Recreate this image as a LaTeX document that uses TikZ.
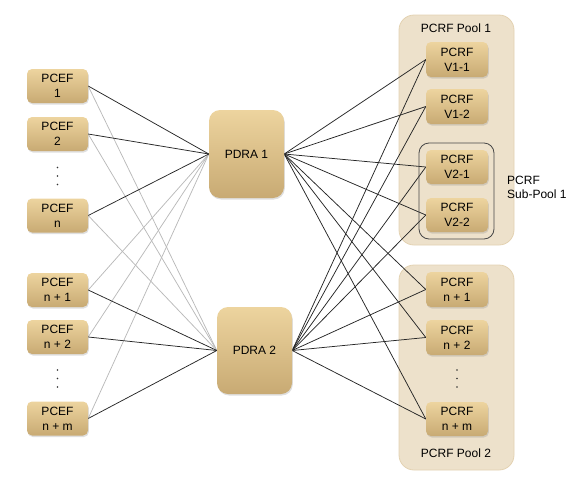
\documentclass[tikz,border=0pt]{standalone}
\usepackage{fontspec}
\setmainfont{Liberation Sans}
\usetikzlibrary{shadows}
\pgfdeclarelayer{poollayer}
\pgfdeclarelayer{linelayer}
\pgfsetlayers{poollayer,linelayer,main}
\definecolor{boxtop}{HTML}{EDD49F}
\definecolor{boxbot}{HTML}{C8AA73}
\definecolor{poolfill}{HTML}{EDE1CB}
\definecolor{poolline}{HTML}{E3D2B2}
\definecolor{darkline}{HTML}{262626}
\definecolor{lightline}{HTML}{BABABA}
\definecolor{dotcol}{HTML}{333333}
\tikzset{
  boxbase/.style={draw=none, top color=boxtop, bottom color=boxbot, inner sep=0pt, align=center,
     font=\fontsize{12}{15}\selectfont,
     drop shadow={shadow xshift=0.8pt, shadow yshift=-1.5pt, opacity=0.25}},
  smallbox/.style={boxbase, rounded corners=5pt, minimum width=61pt, minimum height=34pt},
  bigbox/.style={boxbase, rounded corners=11pt, minimum width=75pt, minimum height=87pt},
  pool/.style={draw=poolline, fill=poolfill, line width=0.8pt, rounded corners=15pt, inner sep=0pt},
  subpool/.style={draw=darkline!85, line width=0.8pt, rounded corners=10pt, inner sep=0pt},
  dotsnode/.style={inner sep=0pt, minimum width=2pt, minimum height=18pt,
     path picture={\fill[dotcol] (path picture bounding box.center) circle (0.85pt);
                   \fill[dotcol] ([yshift=8.5pt]path picture bounding box.center) circle (0.85pt);
                   \fill[dotcol] ([yshift=-8.5pt]path picture bounding box.center) circle (0.85pt);}},
  label/.style={inner sep=0pt, font=\fontsize{12}{14}\selectfont},
  dk/.style={draw=darkline, line width=0.75pt},
  lt/.style={draw=lightline, line width=0.75pt}
}
\begin{document}
\begin{tikzpicture}[x=1pt,y=-1pt]
\useasboundingbox (0,0) rectangle (576,477);
% pools
\begin{pgfonlayer}{poollayer}
\node[pool, minimum width=115pt, minimum height=230pt] (pool1) at (456.5,130) {};
\node[pool, minimum width=115pt, minimum height=205pt] (pool2) at (456.5,367.5) {};
\end{pgfonlayer}
\node[label] (pool1lab) at (456,28) {PCRF Pool 1};
\node[label] (pool2lab) at (456,453) {PCRF Pool 2};
\node[subpool, minimum width=75pt, minimum height=96pt] (sub) at (456.5,191) {};
\node[label, align=left, anchor=west] (sublab) at (507,187) {PCRF\\Sub-Pool 1};
% PCEF
\node[smallbox] (p1) at (57.5,86) {PCEF\\1};
\node[smallbox] (p2) at (57.5,134) {PCEF\\2};
\node[dotsnode, minimum width=3pt, minimum height=20pt] (d1) at (57.5,176) {};
\node[smallbox] (pn) at (57.5,215.5) {PCEF\\n};
\node[smallbox] (pn1) at (57.5,290) {PCEF\\n + 1};
\node[smallbox] (pn2) at (57.5,337) {PCEF\\n + 2};
\node[dotsnode, minimum width=3pt, minimum height=20pt] (d2) at (57.5,378.5) {};
\node[smallbox] (pnm) at (57.5,418.5) {PCEF\\n + m};
% PDRA
\node[bigbox, minimum height=88pt] (a1) at (246.5,154) {PDRA 1};
\node[bigbox] (a2) at (254.5,350.5) {PDRA 2};
% PCRF
\node[smallbox, minimum width=62pt, minimum height=35pt] (v11) at (457,59.5) {PCRF\\V1-1};
\node[smallbox, minimum width=62pt, minimum height=35pt] (v12) at (457,106.5) {PCRF\\V1-2};
\node[smallbox, minimum width=62pt, minimum height=34pt] (v21) at (457,167) {PCRF\\V2-1};
\node[smallbox, minimum width=62pt, minimum height=34pt] (v22) at (457,215) {PCRF\\V2-2};
\node[smallbox, minimum width=62pt, minimum height=35pt] (r1) at (457,289.5) {PCRF\\n + 1};
\node[smallbox, minimum width=62pt, minimum height=35pt] (r2) at (457,337.5) {PCRF\\n + 2};
\node[dotsnode, minimum width=3pt, minimum height=20pt] (d3) at (457,378.5) {};
\node[smallbox, minimum width=62pt, minimum height=34pt] (rm) at (457,419) {PCRF\\n + m};
% connectors
\begin{pgfonlayer}{linelayer}
\foreach \p in {p1,p2,pn} {
  \draw[lt] (\p.east) -- (a2.west);
}
\foreach \p in {pn1,pn2,pnm} {
  \draw[lt] (\p.east) -- (a1.west);
}
\foreach \p in {p1,p2,pn} {
  \draw[dk] (\p.east) -- (a1.west);
}
\foreach \p in {pn1,pn2,pnm} {
  \draw[dk] (\p.east) -- (a2.west);
}
\foreach \r in {v11,v12,v21,v22,r1,r2,rm} {
  \draw[dk] (a1.east) -- (\r.west);
  \draw[dk] (a2.east) -- (\r.west);
}
\end{pgfonlayer}
\end{tikzpicture}
\end{document}
